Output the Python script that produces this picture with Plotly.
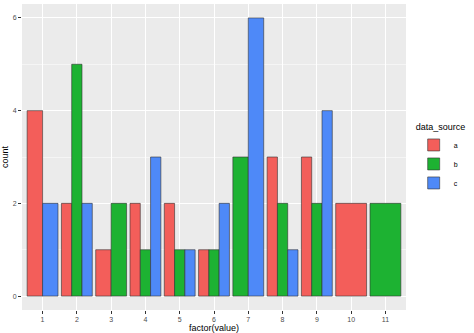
import plotly.graph_objects as go

categories = [1, 2, 3, 4, 5, 6, 7, 8, 9, 10, 11]
tick_labels = [str(c) for c in categories]
groups = ["a", "b", "c"]
counts_a = [4, 2, 1, 2, 2, 1, 0, 3, 3, 2, 0]
counts_b = [0, 5, 2, 1, 1, 1, 3, 2, 2, 0, 2]
counts_c = [2, 2, 0, 3, 1, 2, 6, 1, 4, 0, 0]
colors = {"a": "#F35E5A", "b": "#1DB232", "c": "#4E89F8"}

series = {"a": counts_a, "b": counts_b, "c": counts_c}
total_width = 0.9

fig = go.Figure()
for g in groups:
    xs, ys, ws = [], [], []
    for i, cat in enumerate(categories):
        present = [h for h in groups if series[h][i] > 0]
        if series[g][i] <= 0:
            continue
        k = len(present)
        j = present.index(g)
        w = total_width / k
        xs.append(cat - total_width / 2 + (j + 0.5) * w)
        ys.append(series[g][i])
        ws.append(w)
    fig.add_trace(go.Bar(
        x=xs, y=ys, width=ws, name=g,
        marker=dict(color=colors[g], line=dict(color="#333333", width=0.6)),
    ))

fig.update_layout(
    width=474, height=333,
    barmode="overlay",
    paper_bgcolor="white",
    plot_bgcolor="#EBEBEB",
    margin=dict(l=22, r=68, t=4, b=23),
    font=dict(family="Liberation Sans, Arial, sans-serif", color="black"),
    legend=dict(
        title=dict(text="data_source", font=dict(size=9, color="black")),
        font=dict(size=7, color="black"),
        x=1.02, xanchor="left", y=0.625, yanchor="top",
        bgcolor="white", itemwidth=30, tracegroupgap=0,
    ),
    showlegend=True,
)
fig.update_xaxes(
    range=[0.4, 11.6],
    automargin=False,
    tickvals=categories, ticktext=tick_labels,
    showgrid=True, gridcolor="white", gridwidth=1,
    zeroline=False,
    ticks="outside", ticklen=3, tickcolor="#333333", tickwidth=1,
    tickfont=dict(size=7, color="#4D4D4D"),
    title=dict(text="factor(value)", font=dict(size=9, color="black")),
)
fig.update_yaxes(
    range=[-0.3, 6.3],
    automargin=False,
    tickvals=[0, 2, 4, 6],
    showgrid=True, gridcolor="white", gridwidth=1,
    minor=dict(tickvals=[1, 3, 5], showgrid=True, gridcolor="#F5F5F5", gridwidth=0.5),
    zeroline=False,
    ticks="outside", ticklen=3, tickcolor="#333333", tickwidth=1,
    tickfont=dict(size=7, color="#4D4D4D"),
    title=dict(text="count", font=dict(size=9, color="black")),
)

fig.write_html("out.html")
